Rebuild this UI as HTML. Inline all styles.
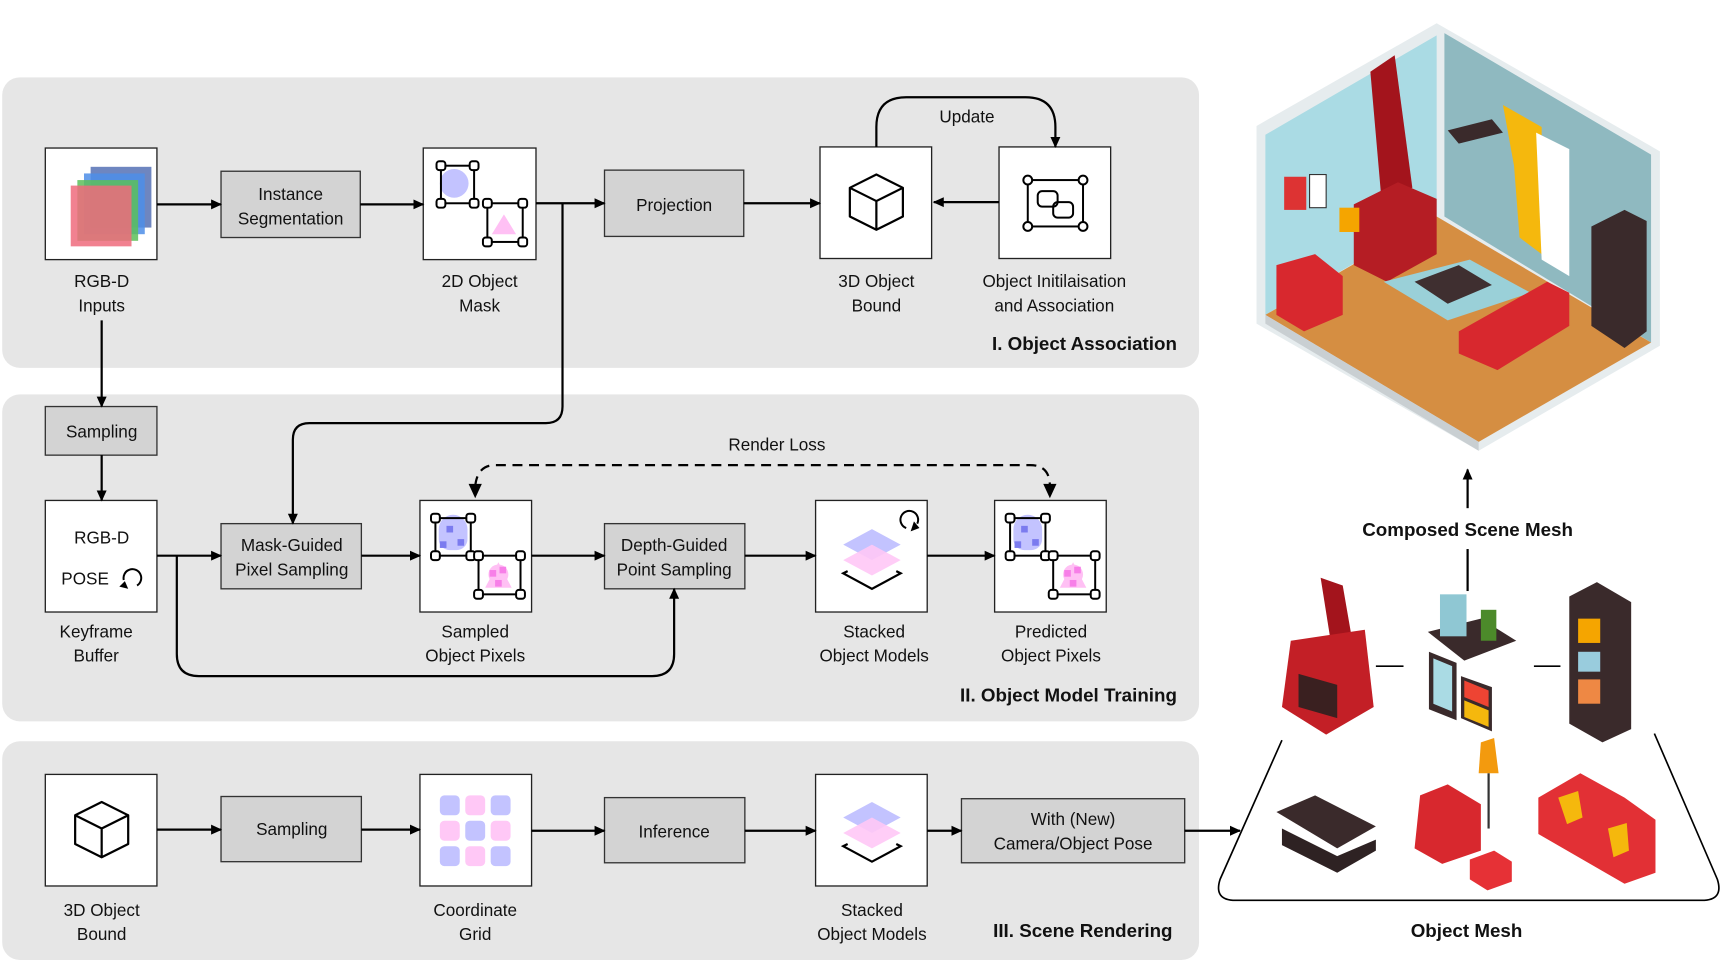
<!DOCTYPE html>
<html><head><meta charset="utf-8"><style>
html,body{margin:0;padding:0;background:#fff;}
svg{display:block;}
text{font-family:"Liberation Sans","DejaVu Sans",sans-serif;fill:#111;}
</style></head><body>
<svg width="1724" height="960" viewBox="0 0 1560 869" preserveAspectRatio="none" xmlns="http://www.w3.org/2000/svg">
<defs>
<marker id="ar" markerWidth="10" markerHeight="10" refX="9" refY="5" orient="auto" markerUnits="userSpaceOnUse"><path d="M0,0.5 L10,5 L0,9.5z" fill="#000"/></marker>
<g id="cube"><path d="M0,-22 L24,-10 L24,16 L0,28 L-24,16 L-24,-10z M-24,-10 L0,2 L24,-10 M0,2 L0,28" fill="none" stroke="#000" stroke-width="2" stroke-linejoin="round"/></g>
<g id="stack"><path d="M0,-27 L26,-13 L0,1 L-26,-13z" fill="#c3c3ff"/><path d="M0,-13 L26,1 L0,15 L-26,1z" fill="#ffc8f6" opacity="0.9"/><path d="M-22,11 L-26,13 L0,27 L26,13 L22,11" fill="none" stroke="#000" stroke-width="2"/></g>
<g id="h"><rect x="-4" y="-4" width="8" height="8" rx="2.5" fill="#fff" stroke="#000" stroke-width="1.8"/></g>
</defs>

<rect x="2" y="70" width="1083" height="263" rx="16" fill="#e6e6e6"/>
<rect x="2" y="357" width="1083" height="296" rx="16" fill="#e6e6e6"/>
<rect x="2" y="671" width="1083" height="198" rx="16" fill="#e6e6e6"/>

<g font-size="15.5" text-anchor="middle">
<rect x="41" y="134" width="101" height="101" fill="#fff" stroke="#222" stroke-width="1.2"/>
<rect x="82" y="151" width="55" height="55" fill="#4a68b0" opacity="0.8"/>
<rect x="76" y="157" width="55" height="55" fill="#4d8ee8" opacity="0.85"/>
<rect x="70" y="163" width="55" height="55" fill="#5cc05a" opacity="0.85"/>
<rect x="64" y="168" width="55" height="55" fill="#ee6b7c" opacity="0.85"/>
<text x="92" y="260">RGB-D</text><text x="92" y="282">Inputs</text>

<rect x="200" y="155" width="126" height="60" fill="#d3d3d3" stroke="#333" stroke-width="1.2"/>
<text x="263" y="181">Instance</text><text x="263" y="203">Segmentation</text>

<rect x="383" y="134" width="102" height="101" fill="#fff" stroke="#222" stroke-width="1.2"/>
<ellipse cx="411" cy="166" rx="13" ry="13" fill="#c3c3ff"/>
<path d="M456,194 L467,212 L445,212z" fill="#ffc0f4"/>
<rect x="399" y="150" width="30" height="34" fill="none" stroke="#000" stroke-width="1.8"/>
<rect x="441" y="184" width="32" height="35" fill="none" stroke="#000" stroke-width="1.8"/>
<use href="#h" x="399" y="150"/><use href="#h" x="429" y="150"/><use href="#h" x="399" y="184"/><use href="#h" x="429" y="184"/>
<use href="#h" x="441" y="184"/><use href="#h" x="473" y="184"/><use href="#h" x="441" y="219"/><use href="#h" x="473" y="219"/>
<text x="434" y="260">2D Object</text><text x="434" y="282">Mask</text>

<rect x="547" y="154" width="126" height="60" fill="#d3d3d3" stroke="#333" stroke-width="1.2"/>
<text x="610" y="191">Projection</text>

<rect x="742" y="133" width="101" height="101" fill="#fff" stroke="#222" stroke-width="1.2"/>
<use href="#cube" x="793" y="180"/>
<text x="793" y="260">3D Object</text><text x="793" y="282">Bound</text>

<rect x="904" y="133" width="101" height="101" fill="#fff" stroke="#222" stroke-width="1.2"/>
<rect x="930" y="163" width="50" height="42" fill="none" stroke="#000" stroke-width="1.8"/>
<rect x="939" y="173" width="18" height="14" rx="4" fill="none" stroke="#000" stroke-width="1.8"/>
<rect x="953" y="183" width="18" height="14" rx="4" fill="none" stroke="#000" stroke-width="1.8"/>
<circle cx="930" cy="163" r="4" fill="#fff" stroke="#000" stroke-width="1.8"/><circle cx="980" cy="163" r="4" fill="#fff" stroke="#000" stroke-width="1.8"/>
<circle cx="930" cy="205" r="4" fill="#fff" stroke="#000" stroke-width="1.8"/><circle cx="980" cy="205" r="4" fill="#fff" stroke="#000" stroke-width="1.8"/>
<text x="954" y="260">Object Initilaisation</text><text x="954" y="282">and Association</text>

<text x="875" y="111">Update</text>
<text x="1065" y="317" text-anchor="end" font-weight="bold" font-size="17">I. Object Association</text>

<rect x="41" y="368" width="101" height="44" fill="#d3d3d3" stroke="#333" stroke-width="1.2"/>
<text x="92" y="396">Sampling</text>

<rect x="41" y="453" width="101" height="101" fill="#fff" stroke="#222" stroke-width="1.2"/>
<text x="92" y="492">RGB-D</text><text x="77" y="529">POSE</text>
<path d="M124,530 A8,8 0 1 0 112,525" fill="none" stroke="#000" stroke-width="1.8"/><path d="M108,531 L116,533 L113,526z" fill="#000"/>
<text x="87" y="577">Keyframe</text><text x="87" y="599">Buffer</text>

<rect x="200" y="474" width="127" height="59" fill="#d3d3d3" stroke="#333" stroke-width="1.2"/>
<text x="264" y="499">Mask-Guided</text><text x="264" y="521">Pixel Sampling</text>

<g id="pix">
<rect x="380" y="453" width="101" height="101" fill="#fff" stroke="#222" stroke-width="1.2"/>
<path d="M397,488 L397,479 A13,13 0 0 1 423,479 L423,488 A10,10 0 0 1 413,498 L407,498 A10,10 0 0 1 397,488z" fill="#c3c3ff"/>
<rect x="404" y="476" width="6" height="6" fill="#7b7bef"/><rect x="398" y="490" width="6" height="6" fill="#7b7bef"/><rect x="414" y="488" width="6" height="6" fill="#7b7bef"/>
<path d="M451,509 L463,532 L439,532z" fill="#ffc0f4"/><circle cx="451" cy="520" r="9" fill="#ffc0f4"/>
<rect x="443" y="516" width="6" height="6" fill="#f77fe8"/><rect x="452" y="513" width="6" height="6" fill="#f77fe8"/><rect x="448" y="525" width="6" height="6" fill="#f77fe8"/>
<rect x="394" y="469" width="32" height="34" fill="none" stroke="#000" stroke-width="1.8"/>
<rect x="433" y="503" width="38" height="35" fill="none" stroke="#000" stroke-width="1.8"/>
<use href="#h" x="394" y="469"/><use href="#h" x="426" y="469"/><use href="#h" x="394" y="503"/><use href="#h" x="426" y="503"/>
<use href="#h" x="433" y="503"/><use href="#h" x="471" y="503"/><use href="#h" x="433" y="538"/><use href="#h" x="471" y="538"/>
</g>
<text x="430" y="577">Sampled</text><text x="430" y="599">Object Pixels</text>

<rect x="547" y="474" width="127" height="59" fill="#d3d3d3" stroke="#333" stroke-width="1.2"/>
<text x="610" y="499">Depth-Guided</text><text x="610" y="521">Point Sampling</text>

<rect x="738" y="453" width="101" height="101" fill="#fff" stroke="#222" stroke-width="1.2"/>
<use href="#stack" x="789" y="506"/>
<path d="M820,478 A8,8 0 1 1 830,474" fill="none" stroke="#000" stroke-width="1.8"/><path d="M824,481 L832,478 L827,472z" fill="#000"/>
<text x="791" y="577">Stacked</text><text x="791" y="599">Object Models</text>

<use href="#pix" x="520" y="0"/>
<text x="951" y="577">Predicted</text><text x="951" y="599">Object Pixels</text>

<text x="703" y="408">Render Loss</text>
<text x="1065" y="635" text-anchor="end" font-weight="bold" font-size="17">II. Object Model Training</text>

<rect x="41" y="701" width="101" height="101" fill="#fff" stroke="#222" stroke-width="1.2"/>
<use href="#cube" x="92" y="748"/>
<text x="92" y="829">3D Object</text><text x="92" y="851">Bound</text>

<rect x="200" y="721" width="127" height="59" fill="#d3d3d3" stroke="#333" stroke-width="1.2"/>
<text x="264" y="756">Sampling</text>

<rect x="380" y="701" width="101" height="101" fill="#fff" stroke="#222" stroke-width="1.2"/>
<g>
<rect x="398" y="720" width="18" height="18" rx="4" fill="#c3c3ff"/><rect x="421" y="720" width="18" height="18" rx="4" fill="#ffc8f6"/><rect x="444" y="720" width="18" height="18" rx="4" fill="#c3c3ff"/>
<rect x="398" y="743" width="18" height="18" rx="4" fill="#ffc8f6"/><rect x="421" y="743" width="18" height="18" rx="4" fill="#c3c3ff"/><rect x="444" y="743" width="18" height="18" rx="4" fill="#ffc8f6"/>
<rect x="398" y="766" width="18" height="18" rx="4" fill="#c3c3ff"/><rect x="421" y="766" width="18" height="18" rx="4" fill="#ffc8f6"/><rect x="444" y="766" width="18" height="18" rx="4" fill="#c3c3ff"/>
</g>
<text x="430" y="829">Coordinate</text><text x="430" y="851">Grid</text>

<rect x="547" y="722" width="127" height="59" fill="#d3d3d3" stroke="#333" stroke-width="1.2"/>
<text x="610" y="758">Inference</text>

<rect x="738" y="701" width="101" height="101" fill="#fff" stroke="#222" stroke-width="1.2"/>
<use href="#stack" x="789" y="753"/>
<text x="789" y="829">Stacked</text><text x="789" y="851">Object Models</text>

<rect x="870" y="723" width="202" height="58" fill="#d3d3d3" stroke="#333" stroke-width="1.2"/>
<text x="971" y="747">With (New)</text><text x="971" y="769">Camera/Object Pose</text>

<text x="1061" y="848" text-anchor="end" font-weight="bold" font-size="17">III. Scene Rendering</text>

<text x="1328" y="485" font-weight="bold" font-size="17">Composed Scene Mesh</text>
<text x="1327" y="848" font-weight="bold" font-size="17">Object Mesh</text>
</g>

<g fill="none" stroke="#000" stroke-width="2">
<path d="M142,185 H200" marker-end="url(#ar)"/>
<path d="M326,185 H383" marker-end="url(#ar)"/>
<path d="M485,184 H547" marker-end="url(#ar)"/>
<path d="M673,184 H742" marker-end="url(#ar)"/>
<path d="M904,183 H845" marker-end="url(#ar)"/>
<path d="M793,133 V115 Q793,88 820,88 H928 Q955,88 955,115 V133" marker-end="url(#ar)"/>
<path d="M509,184 V368 Q509,383 494,383 H280 Q265,383 265,398 V474" marker-end="url(#ar)"/>
<path d="M92,290 V368" marker-end="url(#ar)"/>
<path d="M92,412 V453" marker-end="url(#ar)"/>
<path d="M142,503 H200" marker-end="url(#ar)"/>
<path d="M160,503 V592 Q160,612 180,612 H590 Q610,612 610,592 V533" marker-end="url(#ar)"/>
<path d="M327,503 H380" marker-end="url(#ar)"/>
<path d="M481,503 H547" marker-end="url(#ar)"/>
<path d="M674,503 H738" marker-end="url(#ar)"/>
<path d="M839,503 H900" marker-end="url(#ar)"/>
<path d="M430,440 Q432,421 448,421 H932 Q950,421 950,440" stroke-dasharray="9,6"/>
<path d="M142,751 H200" marker-end="url(#ar)"/>
<path d="M327,751 H380" marker-end="url(#ar)"/>
<path d="M481,752 H547" marker-end="url(#ar)"/>
<path d="M674,752 H738" marker-end="url(#ar)"/>
<path d="M839,752 H870" marker-end="url(#ar)"/>
<path d="M1072,752 H1122" marker-end="url(#ar)"/>
<path d="M1328,460 V425" marker-end="url(#ar)"/>
<path d="M1328,497 V535"/>
<path d="M1245,603 H1270 M1388,603 H1412" stroke-width="1.5"/>
<path d="M1160,670 L1104,796 Q1098,815 1118,815 H1540 Q1560,815 1554,796 L1497,664" stroke-width="1.5"/>
</g>
<path d="M430,451 L424,438 L436,438z" fill="#000"/>
<path d="M950,451 L944,438 L956,438z" fill="#000"/>

<g>
<path d="M1137,114 L1300,21 L1502,137 L1502,313 L1338,408 L1137,293z" fill="#e6ecee"/>
<path d="M1145,122 L1300,32 L1300,195 L1145,285z" fill="#aadbe4"/>
<path d="M1307,30 L1494,140 L1494,310 L1307,196z" fill="#8fb9c0"/>
<path d="M1145,285 L1300,196 L1494,310 L1338,400z" fill="#d58e42"/>
<path d="M1145,285 L1338,400 L1338,408 L1145,293z" fill="#c9cfd2"/>
<path d="M1240,65 L1262,50 L1278,170 L1250,180z" fill="#a3141c"/>
<path d="M1225,185 L1265,165 L1300,180 L1300,230 L1255,255 L1225,240z" fill="#b51d24"/>
<path d="M1252,255 L1330,235 L1385,265 L1310,290z" fill="#9ad0d8"/>
<path d="M1280,255 L1320,240 L1350,258 L1310,275z" fill="#3f2f30"/>
<path d="M1155,240 L1190,230 L1215,250 L1215,285 L1180,300 L1155,285z" fill="#d8282e"/>
<path d="M1320,300 L1400,255 L1420,265 L1420,295 L1355,335 L1320,320z" fill="#d8282e"/>
<path d="M1360,95 L1395,115 L1395,230 L1375,215 L1370,150z" fill="#f5b80d"/>
<path d="M1390,120 L1420,135 L1420,250 L1395,235z" fill="#ffffff"/>
<path d="M1440,205 L1470,190 L1490,200 L1490,300 L1470,315 L1440,295z" fill="#3a2a2b"/>
<path d="M1310,118 L1350,108 L1360,120 L1320,130z" fill="#3a2a2b"/>
<rect x="1162" y="160" width="20" height="30" fill="#d33"/><rect x="1185" y="158" width="15" height="30" fill="#fff" stroke="#333"/>
<rect x="1212" y="188" width="18" height="22" fill="#f5a500"/>
</g>

<g>
<path d="M1195,523 L1215,530 L1228,605 L1208,605z" fill="#a3141c"/>
<path d="M1168,580 L1235,570 L1243,640 L1200,665 L1160,640z" fill="#c31f26"/>
<path d="M1175,610 L1210,620 L1210,650 L1175,640z" fill="#3a2020"/>
<path d="M1292,572 L1340,560 L1372,580 L1325,598z" fill="#3a2a2b"/>
<rect x="1303" y="538" width="24" height="38" fill="#8fc7d3"/><rect x="1340" y="552" width="14" height="28" fill="#4c8a2a"/>
<path d="M1293,590 L1318,600 L1318,652 L1293,642z" fill="#3a2a2b"/><path d="M1297,596 L1314,603 L1314,644 L1297,637z" fill="#aadbe4"/>
<path d="M1322,612 L1350,622 L1350,662 L1322,650z" fill="#3a2a2b"/><path d="M1325,616 L1347,625 L1347,640 L1325,631z" fill="#e43"/><path d="M1325,634 L1347,643 L1347,658 L1325,649z" fill="#f5b80d"/>
<path d="M1420,540 L1445,527 L1476,545 L1476,660 L1450,672 L1420,655z" fill="#3a2a2b"/>
<rect x="1428" y="560" width="20" height="22" fill="#f5a500"/><rect x="1428" y="590" width="20" height="18" fill="#9cd"/><rect x="1428" y="615" width="20" height="22" fill="#e84"/>
<path d="M1155,735 L1190,720 L1245,748 L1210,768z" fill="#3a2a2b"/>
<path d="M1160,750 L1210,775 L1245,760 L1245,770 L1210,790 L1160,765z" fill="#2e2223"/>
<path d="M1340,672 L1352,668 L1356,700 L1338,700z" fill="#f39a0e"/><rect x="1346" y="700" width="2" height="50" fill="#333"/>
<path d="M1285,720 L1310,710 L1340,728 L1340,770 L1305,782 L1280,768z" fill="#d8282e"/>
<path d="M1330,778 L1352,770 L1368,780 L1368,798 L1346,806 L1330,796z" fill="#e63136"/>
<path d="M1392,722 L1430,700 L1470,722 L1498,742 L1498,790 L1470,800 L1392,755z" fill="#e23035"/>
<path d="M1410,722 L1428,716 L1432,740 L1418,746z" fill="#f5b80d"/><path d="M1455,750 L1472,745 L1474,770 L1460,776z" fill="#f5b80d"/>
</g>
</svg>
</body></html>
